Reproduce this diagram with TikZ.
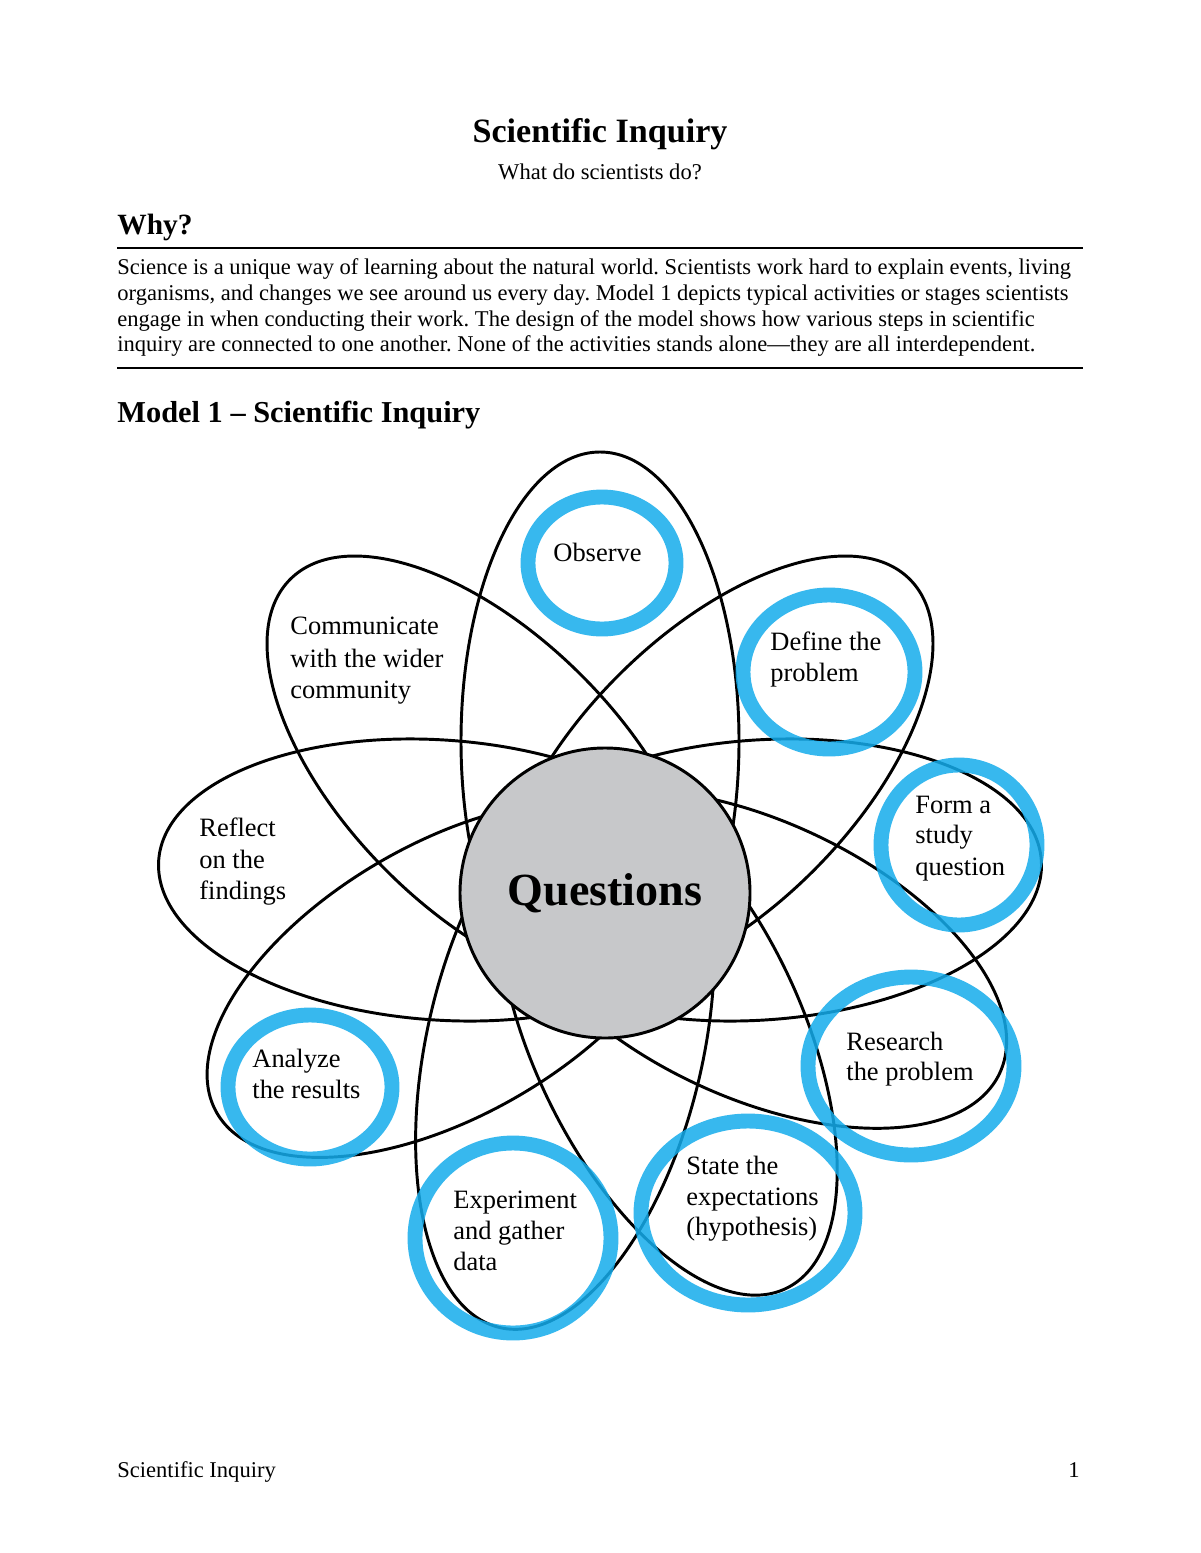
\documentclass[tikz,border=0pt]{standalone}
\usepackage{fontspec}
\setmainfont{Liberation Serif}
\definecolor{ringblue}{RGB}{20,172,236}
\definecolor{qgray}{RGB}{199,200,202}
\frenchspacing
\begin{document}
\begin{tikzpicture}[x=0.51pt,y=-0.51pt,
  petal/.style={draw=black,line width=1.5pt},
  ring/.style={draw=ringblue,line width=7.6pt,draw opacity=0.85},
  lbl/.style={anchor=base west,inner sep=0pt,font=\fontsize{13.5}{16}\selectfont},
  body/.style={anchor=base west,inner sep=0pt,font=\fontsize{11.5}{13}\selectfont},
  rulestyle/.style={line width=1.5pt}]
\fill[white] (0,0) rectangle (1200,1553);
\useasboundingbox (0,0) rectangle (1200,1553);

% header
\node[anchor=base,inner sep=0pt,font=\fontsize{17.4}{20}\selectfont\bfseries] (title) at (600,143) {Scientific Inquiry};
\node[anchor=base,inner sep=0pt,font=\fontsize{11.5}{13}\selectfont] (subtitle) at (600,180) {What do scientists do?};
\node[anchor=base west,inner sep=0pt,font=\fontsize{15}{17}\selectfont\bfseries] (why) at (117,235) {Why?};
\coordinate (r1a) at (117,248); \coordinate (r1b) at (1083,248);
\draw[rulestyle] (r1a) -- (r1b);
\node[body] (b1) at (117,275) {Science is a unique way of learning about the natural world. Scientists work hard to explain events, living};
\node[body] (b2) at (117,300.5) {organisms, and changes we see around us every day. Model 1 depicts typical activities or stages scientists};
\node[body] (b3) at (117,326) {engage in when conducting their work. The design of the model shows how various steps in scientific};
\node[body] (b4) at (117,351.5) {inquiry are connected to one another. None of the activities stands alone—they are all interdependent.};
\coordinate (r2a) at (117,368); \coordinate (r2b) at (1083,368);
\draw[rulestyle] (r2a) -- (r2b);
\node[anchor=base west,inner sep=0pt,font=\fontsize{15.5}{17}\selectfont\bfseries] (model) at (117,422) {Model 1 – Scientific Inquiry};

% petals
\draw[petal] (600,741) ellipse [x radius=139, y radius=289];
\draw[petal,rotate around={45:(484,773)}] (484,773) ellipse [x radius=138, y radius=274];
\draw[petal,rotate around={-45:(716,773)}] (716,773) ellipse [x radius=138, y radius=274];
\draw[petal,rotate around={86:(440,880)}] (440,880) ellipse [x radius=140, y radius=282];
\draw[petal,rotate around={-86:(760,880)}] (760,880) ellipse [x radius=140, y radius=282];
\draw[petal,rotate around={65:(755,959)}] (755,959) ellipse [x radius=138, y radius=270];
\draw[petal,rotate around={-60:(449,979)}] (449,979) ellipse [x radius=136, y radius=268];
\draw[petal,rotate around={25:(667,1035)}] (667,1035) ellipse [x radius=135, y radius=280];
\draw[petal,rotate around={-13:(565,1046)}] (565,1046) ellipse [x radius=138, y radius=289];

% centre
\node[circle,draw=black,line width=1.5pt,fill=qgray,minimum size=147.9pt,inner sep=0pt,
      font=\fontsize{23.5}{26}\selectfont\bfseries] (q) at (605,893) {Questions};

% rings
\draw[ring] (602,563) ellipse [x radius=74, y radius=66];
\draw[ring] (829,672) ellipse [x radius=86, y radius=77];
\draw[ring] (959,845) ellipse [x radius=78, y radius=80];
\draw[ring] (911,1066) ellipse [x radius=103, y radius=89];
\draw[ring] (748,1213) ellipse [x radius=107, y radius=92];
\draw[ring] (513,1238) ellipse [x radius=98, y radius=95];
\draw[ring] (310,1087) ellipse [x radius=82, y radius=72];

% labels
\node[lbl] (obs) at (553,561) {Observe};
\node[lbl] (com1) at (290,634) {Communicate};
\node[lbl] (com2) at (290,667) {with the wider};
\node[lbl] (com3) at (290,698) {community};
\node[lbl] (def1) at (770,650) {Define the};
\node[lbl] (def2) at (770,681) {problem};
\node[lbl] (form1) at (915,813) {Form a};
\node[lbl] (form2) at (915,843) {study};
\node[lbl] (form3) at (915,875) {question};
\node[lbl] (ref1) at (199,836) {Reflect};
\node[lbl] (ref2) at (199,868) {on the};
\node[lbl] (ref3) at (199,899) {findings};
\node[lbl] (res1) at (846,1050) {Research};
\node[lbl] (res2) at (846,1080) {the problem};
\node[lbl] (ana1) at (252,1067) {Analyze};
\node[lbl] (ana2) at (252,1098) {the results};
\node[lbl] (sta1) at (686,1174) {State the};
\node[lbl] (sta2) at (686,1205) {expectations};
\node[lbl] (sta3) at (686,1235) {(hypothesis)};
\node[lbl] (exp1) at (453,1208) {Experiment};
\node[lbl] (exp2) at (453,1239) {and gather};
\node[lbl] (exp3) at (453,1270) {data};

% footer
\node[body] (foot) at (117,1477) {Scientific Inquiry};
\node[anchor=base east,inner sep=0pt,font=\fontsize{11.5}{13}\selectfont] (pg) at (1080,1477) {1};
\end{tikzpicture}
\end{document}
